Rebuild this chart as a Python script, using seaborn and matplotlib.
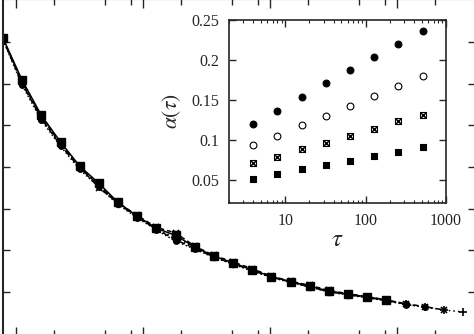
import matplotlib
matplotlib.use("Agg")
import matplotlib.pyplot as plt
import seaborn as sns
import pandas as pd
from matplotlib.ticker import FixedLocator, NullFormatter, FuncFormatter

sns.set_style("ticks")
plt.rcParams["font.family"] = ["Liberation Serif", "DejaVu Serif"]
plt.rcParams["mathtext.fontset"] = "stix"

# ---------------- main panel data (collapsed curves) ----------------
t_main = [0.79, 1.118, 1.583, 2.241, 3.172, 4.49, 6.357, 9.0, 12.74, 18.04,
          25.53, 36.14, 51.16, 72.42, 102.5, 145.1, 205.4, 290.8, 411.7,
          582.8, 825.0, 1168, 1653, 2340, 3313]

y_sq = [7.09, 6.08, 5.24, 4.60, 4.02, 3.61, 3.15, 2.82, 2.53, 2.36, 2.08,
        1.86, 1.70, 1.53, 1.37, 1.25, 1.14, 1.02, 0.95, 0.88, 0.81]
y_oc = [7.06, 6.00, 5.16, 4.52, 3.98, 3.56, 3.12, 2.80, 2.51, 2.25, 2.05,
        1.84, 1.68, 1.52, 1.36, 1.24, 1.12, 1.01, 0.94, 0.87, 0.80, 0.71]
y_fc = [7.05, 5.96, 5.12, 4.50, 3.94, 3.52, 3.10, 2.78, 2.49, 2.22, 2.03,
        1.83, 1.67, 1.50, 1.35, 1.23, 1.12, 1.00, 0.93, 0.86, 0.79, 0.70, 0.64]
y_x = [7.08, 6.04, 5.20, 4.56, 4.00, 3.50, 3.14, 2.84, 2.55, 2.42, 2.10,
       1.88, 1.72, 1.56, 1.38, 1.26, 1.16, 1.04, 0.96, 0.89, 0.81, 0.72, 0.65, 0.57]
y_pl = [7.07, 6.02, 5.18, 4.55, 3.99, 3.58, 3.13, 2.81, 2.52, 2.30, 2.07,
        1.85, 1.69, 1.52, 1.36, 1.25, 1.13, 1.02, 0.94, 0.87, 0.80, 0.71,
        0.64, 0.57, 0.52]

# ---------------- inset data ----------------
tau = [4, 8, 16, 32, 64, 128, 256, 512]
a_filled_circ = [0.120, 0.136, 0.154, 0.171, 0.188, 0.204, 0.220, 0.236]
a_open_circ = [0.093, 0.105, 0.118, 0.130, 0.143, 0.155, 0.168, 0.180]
a_open_sq = [0.071, 0.079, 0.088, 0.096, 0.105, 0.114, 0.123, 0.131]
a_cross = [0.071, 0.079, 0.088, 0.096, 0.105, 0.114, 0.123, 0.131]
a_filled_sq = [0.051, 0.057, 0.063, 0.069, 0.074, 0.080, 0.085, 0.091]

fig = plt.figure(figsize=(4.74, 3.34), dpi=100)
ax = fig.add_axes([3 / 474, -2 / 334, 472 / 474, 337 / 334])

series = [
    (y_oc, "o", (0, (4, 2)), "white", 4.5, 0.9),
    (y_fc, "o", (0, (1, 1.5)), "k", 4.0, 0.9),
    (y_x, "x", (0, (3, 2)), "k", 5.0, 1.2),
    (y_pl, "+", (0, (1, 2)), "k", 6.0, 1.2),
    (y_sq, "s", "-", "k", 5.8, 1.0),
]
for yv, mk, ls, fc, ms, mew in series:
    df = pd.DataFrame({"t": t_main[:len(yv)], "y": yv})
    sns.lineplot(data=df, x="t", y="y", ax=ax, color="k", marker=mk,
                 linestyle=ls, lw=1.1, markersize=ms, markerfacecolor=fc,
                 markeredgecolor="k", markeredgewidth=mew,
                 estimator=None, sort=False, legend=False)

ax.set_xscale("log")
ax.set_xlim(0.79, 4111)
ax.set_ylim(-0.055, 8.03)
ax.xaxis.set_major_locator(FixedLocator([1, 10, 100, 1000]))
ax.xaxis.set_minor_locator(FixedLocator([2, 5, 8, 20, 50, 80, 200, 500, 800,
                                         2000, 5000]))
ax.yaxis.set_major_locator(FixedLocator([1, 2, 3, 4, 5, 6, 7]))
ax.xaxis.set_major_formatter(NullFormatter())
ax.xaxis.set_minor_formatter(NullFormatter())
ax.yaxis.set_major_formatter(NullFormatter())
ax.tick_params(which="major", direction="in", top=True, right=True,
               length=6.5, width=1.0)
ax.tick_params(which="minor", direction="in", top=True, right=True,
               length=4.5, width=1.0)
ax.tick_params(axis="y", which="major", length=5)
for s in ax.spines.values():
    s.set_linewidth(1.5)
ax.set_xlabel("")
ax.set_ylabel("")

# ---------------- inset ----------------
ax2 = fig.add_axes([229 / 474, 131 / 334, 217 / 474, 183 / 334])
ins = [
    (a_filled_circ, "o", "k", 24),
    (a_open_circ, "o", "white", 24),
    (a_open_sq, "s", "white", 24),
    (a_cross, "x", "k", 20),
    (a_filled_sq, "s", "k", 24),
]
for yv, mk, fc, s in ins:
    d = pd.DataFrame({"tau": tau[:len(yv)], "a": yv})
    if mk == "x":
        sns.scatterplot(data=d, x="tau", y="a", ax=ax2, marker=mk, color="k",
                        s=s, linewidth=1.1, legend=False, zorder=3)
    else:
        sns.scatterplot(data=d, x="tau", y="a", ax=ax2, marker=mk,
                        facecolor=fc, edgecolor="k", s=s, linewidth=0.8,
                        legend=False, zorder=3)

ax2.set_xscale("log")
ax2.set_xlim(2, 1000)
ax2.set_ylim(0.021, 0.25)
ax2.yaxis.set_major_locator(FixedLocator([0.05, 0.1, 0.15, 0.2, 0.25]))
ax2.yaxis.set_major_formatter(FuncFormatter(lambda v, p: f"{v:g}"))
ax2.xaxis.set_major_locator(FixedLocator([10, 100, 1000]))
ax2.xaxis.set_major_formatter(FuncFormatter(lambda v, p: f"{v:g}"))
minors = [m * d for d in (1, 10, 100) for m in range(2, 10)]
ax2.xaxis.set_minor_locator(FixedLocator(minors))
ax2.xaxis.set_minor_formatter(NullFormatter())
ax2.tick_params(which="major", direction="in", top=True, right=True,
                length=5, width=1.0, labelsize=11.5, pad=7)
ax2.tick_params(which="minor", direction="in", top=True, right=True,
                length=2.5, width=0.8)
for s in ax2.spines.values():
    s.set_linewidth(1.2)
ax2.set_xlabel(r"$\tau$", fontsize=18, labelpad=0)
ax2.set_ylabel(r"$\alpha(\tau)$", fontsize=15.5, labelpad=6)

fig.savefig("out.png", dpi=100)
